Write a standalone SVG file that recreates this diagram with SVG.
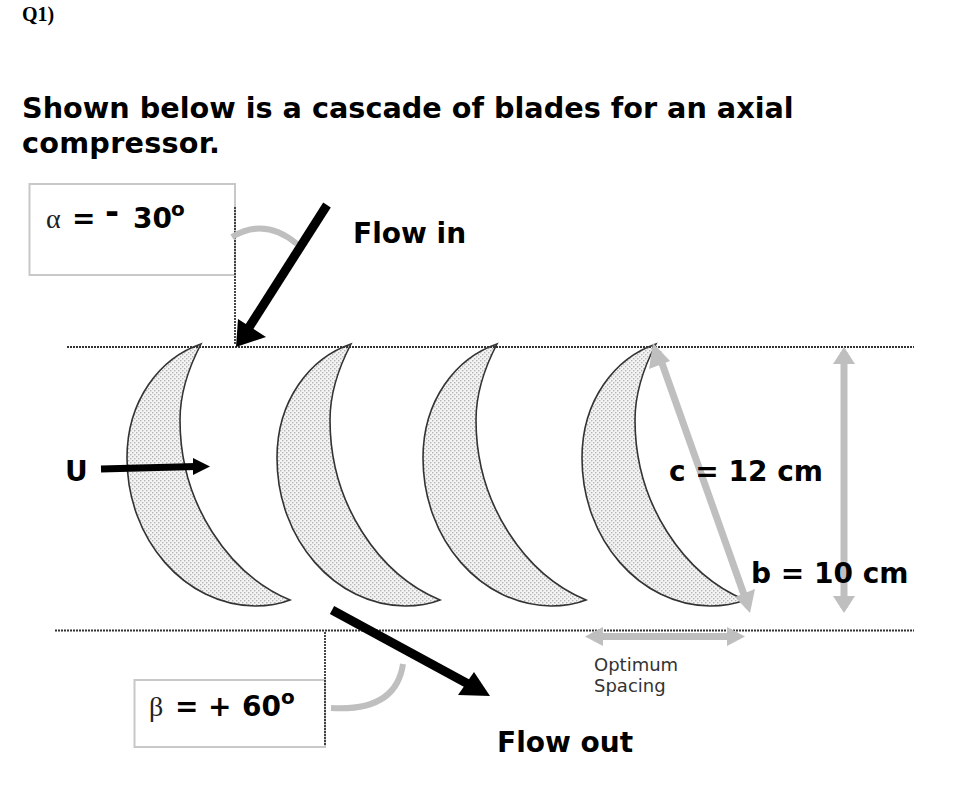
<svg xmlns="http://www.w3.org/2000/svg" width="954" height="797" viewBox="0 0 954 797">
<style>
.t{font-family:"DejaVu Sans",Verdana,sans-serif;font-weight:bold;fill:#000}
.l{font-size:28px}
.s{font-size:18px;font-weight:normal;fill:#333}
.g{font-family:"Liberation Serif",serif;font-weight:normal;fill:#222}
.box{fill:#fff;stroke:#c8c8c8;stroke-width:2}
.dot{fill:none;stroke:#333;stroke-width:1.8;stroke-dasharray:2 1}
.blade{fill:url(#dots);stroke:#333;stroke-width:1.6}
.gr{fill:none;stroke:#bfbfbf;stroke-width:7}
.ga{fill:#bfbfbf}
.bk{stroke:#000;stroke-width:9;fill:none}
</style>
<defs>
<pattern id="dots" width="4" height="4" patternUnits="userSpaceOnUse">
<rect width="4" height="4" fill="#f4f4f4"/>
<rect x="0" y="0" width="1.4" height="1.4" fill="#b4b4b4"/>
<rect x="2" y="2" width="1.4" height="1.4" fill="#b4b4b4"/>
</pattern>
<path id="bl" d="M201,344 C160,358 127,400 127,458 C127,540 185,605 255,606 C270,606 280,604 290,600 C230,575 180,505 180,420 C180,392 190,365 201,344 Z"/>
</defs>
<rect width="954" height="797" fill="#fff"/>
<text x="22" y="21" style="font-family:'Liberation Serif',serif;font-weight:bold;font-size:20px">Q1)</text>
<g id="title" class="t" style="font-size:28.7px">
<text x="22" y="118">Shown below is a cascade of blades for an axial</text>
<text x="22" y="153" textLength="198">compressor.</text>
</g>
<g id="alpha-box"><rect class="box" x="29.500" y="184" width="205.500" height="91"/>
<text class="t l" y="228"><tspan class="g" x="46">α</tspan><tspan x="72">=</tspan><tspan x="105" y="223" font-size="34">-</tspan><tspan x="133" y="228">30</tspan><tspan x="171" y="216" font-size="20">o</tspan></text></g>
<g id="beta-box"><rect class="box" x="134.500" y="680" width="190.500" height="67"/>
<text class="t l" y="716"><tspan class="g" x="149">β</tspan><tspan x="175">=</tspan><tspan x="208">+</tspan><tspan x="242">60</tspan><tspan x="281" y="704" font-size="20">o</tspan></text></g>
<g id="blade-1"><use href="#bl" class="blade"/></g>
<g id="blade-2"><use href="#bl" class="blade" x="150"/></g>
<g id="blade-3"><use href="#bl" class="blade" x="296"/></g>
<g id="blade-4"><use href="#bl" class="blade" transform="translate(455,0)"/></g>
<g id="connectors">
<path class="dot" d="M67,347H914M55,630.500H914M235,207V345M325,632V746"/>
<path class="gr" style="stroke-width:6" d="M232,237Q265,217 297,244"/>
<path class="gr" style="stroke-width:6" d="M331,708Q396,712 403,664"/>
<path class="gr" d="M658,352L748,606"/>
<polygon class="ga" points="653,343 670,361 649,369"/>
<polygon class="ga" points="750,613 735,597 755,589"/>
<path class="gr" d="M844,352V608"/>
<polygon class="ga" points="844,347 855,364 833,364"/>
<polygon class="ga" points="844,613 855,596 833,596"/>
<path class="gr" d="M592,636.500H738"/>
<polygon class="ga" points="585,636.500 603,627 603,646"/>
<polygon class="ga" points="745,636.500 727,627 727,646"/>
<path class="bk" d="M327,205L248,329"/>
<polygon points="236,347 238,319 266,337"/>
<path class="bk" style="stroke-width:7" d="M101,469L196,466.500"/>
<polygon points="210,466.500 193,458 193,475"/>
<path class="bk" d="M332,610L470,685"/>
<polygon points="490,696 458,695 474,672"/>
</g>
<g id="labels" class="t">
<text class="l" x="353" y="243">Flow in</text>
<text class="l" x="65" y="481">U</text>
<text class="l" x="669" y="481">c = 12 cm</text>
<text class="l" x="751" y="583">b = 10 cm</text>
<text class="l" x="497" y="752">Flow out</text>
<text class="t s" x="594" y="671">Optimum</text>
<text class="t s" x="594" y="692">Spacing</text>
</g>
</svg>
